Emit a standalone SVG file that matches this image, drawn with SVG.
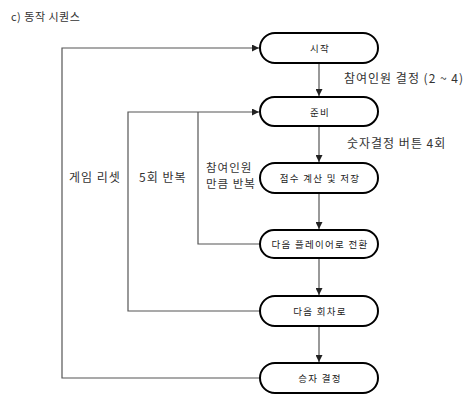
<svg xmlns="http://www.w3.org/2000/svg" width="474" height="417" viewBox="0 0 474 417">
<defs>
<marker id="arr" viewBox="0 0 8 8" refX="8" refY="4" markerWidth="7" markerHeight="7" markerUnits="userSpaceOnUse" orient="auto">
<path d="M0,0 L8,4 L0,8 Z" fill="#222"/>
</marker>
<style>
.node rect{fill:#fff;stroke:#000;stroke-width:2}
.node text{font-family:"Noto Sans CJK KR","Noto Sans",sans-serif;font-size:9.5px;letter-spacing:1.3px;fill:#222;text-anchor:middle;dominant-baseline:central}
.conn path{fill:none;stroke:#555;stroke-width:1.2}
.lbl{font-family:"Noto Sans CJK KR","Noto Sans",sans-serif;font-size:12px;letter-spacing:1px;fill:#333}
</style>
</defs>
<rect width="474" height="417" fill="#fff"/>
<text class="lbl" x="11" y="21" style="font-size:11px;letter-spacing:0.5px">c) 동작 시퀀스</text>
<g class="conn">
<path d="M319,63 V96" marker-end="url(#arr)"/>
<path d="M319,126 V162" marker-end="url(#arr)"/>
<path d="M319,193 V229" marker-end="url(#arr)"/>
<path d="M319,258 V295" marker-end="url(#arr)"/>
<path d="M319,326 V362" marker-end="url(#arr)"/>
<path d="M260,378 H62 V48 H259" marker-end="url(#arr)"/>
<path d="M260,311 H128 V112 H259" marker-end="url(#arr)"/>
<path d="M260,244 H198 V112"/>
</g>
<g id="n1" class="node"><rect x="260" y="33" width="118" height="30" rx="15"/><text x="320" y="48">시작</text></g>
<g id="n2" class="node"><rect x="260" y="97" width="118" height="29" rx="14.5"/><text x="320" y="111.5">준비</text></g>
<g id="n3" class="node"><rect x="260" y="163" width="118" height="30" rx="15"/><text x="320" y="178">점수 계산 및 저장</text></g>
<g id="n4" class="node"><rect x="260" y="230" width="118" height="28" rx="14"/><text x="320" y="244">다음 플레이어로 전환</text></g>
<g id="n5" class="node"><rect x="260" y="296" width="118" height="30" rx="15"/><text x="320" y="311">다음 회차로</text></g>
<g id="n6" class="node"><rect x="260" y="363" width="118" height="30" rx="15"/><text x="320" y="378">승자 결정</text></g>
<text class="lbl" x="344" y="83">참여인원 결정 (2 ~ 4)</text>
<text class="lbl" x="347" y="148">숫자결정 버튼 4회</text>
<text class="lbl" x="69" y="182">게임 리셋</text>
<text class="lbl" x="139" y="182">5회 반복</text>
<text class="lbl" x="206" y="172" style="font-size:11.5px">참여인원</text>
<text class="lbl" x="206" y="188" style="font-size:11.5px">만큼 반복</text>
</svg>
